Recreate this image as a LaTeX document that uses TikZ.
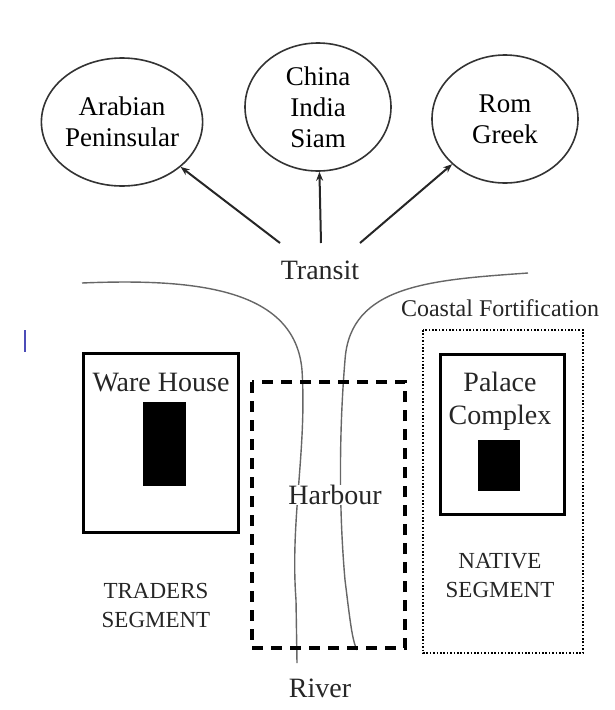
\documentclass[tikz,border=0pt]{standalone}
\usepackage{fontspec}
\setmainfont{Liberation Serif}
\usetikzlibrary{shapes.geometric,arrows.meta}
\begin{document}
\begin{tikzpicture}[x=1pt,y=-1pt,
  reg/.style={draw=black!80,line width=1.6pt,ellipse,minimum width=146pt,minimum height=128pt,inner sep=0pt,align=center,font=\fontsize{27}{31}\selectfont},
  lbl/.style={align=center,font=\fontsize{28}{32}\selectfont,text=black!85,inner sep=1pt},
  small/.style={align=center,font=\fontsize{23}{29}\selectfont,text=black!85},
  arr/.style={-{Stealth[length=9pt,width=7pt]},line width=2pt,black!85},
  riv/.style={draw=black!60,line width=1.4pt}]
\useasboundingbox (0,0) rectangle (614,710);
\node[reg] (arab) at (122,122) {Arabian\\Peninsular};
\node[reg] (china) at (318,107) {China\\India\\Siam};
\node[reg] (rom) at (505,119) {Rom\\Greek};
\coordinate (t1) at (280,243);
\coordinate (t2) at (321,243);
\coordinate (t3) at (360,243);
\draw[arr] (t1) -- (arab);
\draw[arr] (t2) -- (china);
\draw[arr] (t3) -- (rom);
\node[lbl] (transit) at (320,270) {Transit};
\draw[riv] (82,283) .. controls (200,278) and (295,290) .. (302,370) .. controls (307,450) and (290,520) .. (296,600) -- (297,663);
\draw[riv] (528,273) .. controls (430,280) and (350,285) .. (345,360) .. controls (340,420) and (338,500) .. (345,580) .. controls (350,620) and (352,640) .. (357,650);
\draw[line width=3pt] (83,353) rectangle (238,532);
\fill (143,402) rectangle (186,486);
\node[lbl] (ware) at (161,383) {Ware House};
\draw[line width=3.2pt,dash pattern=on 11pt off 8pt] (252,382) rectangle (405,648);
\node[lbl,fill=white,inner sep=0pt] (harb) at (335,495) {Harbour};
\draw[line width=2.2pt,dash pattern=on 1.6pt off 1.8pt] (423,330) rectangle (583,653);
\node[small,font=\fontsize{24}{28}\selectfont] (coast) at (500,308) {Coastal Fortification};
\draw[line width=3pt] (440,354) rectangle (564,514);
\fill (478,440) rectangle (520,491);
\node[lbl,font=\fontsize{28}{33}\selectfont] (palace) at (500,401) {Palace\\Complex};
\node[small] (trad) at (156,605) {TRADERS\\SEGMENT};
\node[small] (nat) at (500,576) {NATIVE\\SEGMENT};
\node[lbl] (river) at (320,688) {River};
\draw[blue!60!black!70,line width=1.2pt] (25,330) -- (25,352);
\end{tikzpicture}
\end{document}
